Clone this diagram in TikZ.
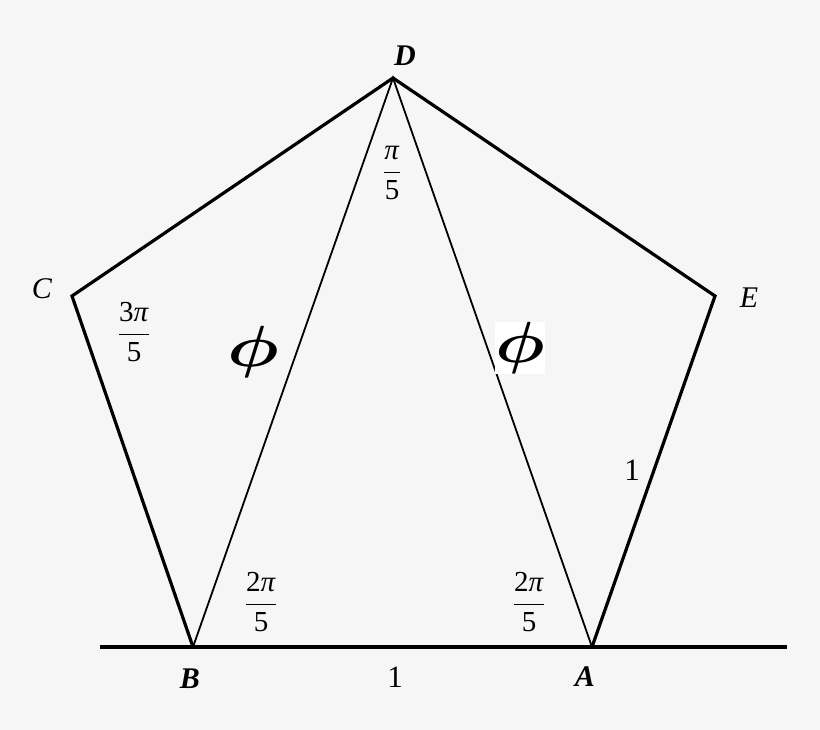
\RequirePackage{fix-cm}
\documentclass[tikz,border=0pt]{standalone}
\usepackage{amsmath}
\usepackage{fontspec}
\setmainfont{Liberation Serif}
\definecolor{bgcol}{HTML}{F6F6F6}
\newcommand{\angfrac}[2]{$\dfrac{\text{#1}}{\text{#2}}$}
\tikzset{
  edgethick/.style={line width=3.2pt, line join=miter, line cap=butt},
  edgethin/.style={line width=1.8pt},
  vlab/.style={font=\fontsize{30}{30}\selectfont\bfseries\itshape, inner sep=0pt},
  vlabthin/.style={font=\fontsize{30}{30}\selectfont\itshape, inner sep=0pt},
  anglab/.style={font=\fontsize{29}{29}\selectfont, inner sep=0pt},
  lenlab/.style={font=\fontsize{31}{31}\selectfont, inner sep=0pt},
  philab/.style={font=\fontsize{58}{58}\selectfont, inner sep=0pt}
}
\begin{document}
\begin{tikzpicture}[x=1pt,y=-1pt]
\fill[bgcol] (0,0) rectangle (820,730);
\useasboundingbox (0,0) rectangle (820,730);
\coordinate (D) at (393,78);
\coordinate (C) at (72,296);
\coordinate (E) at (715,296);
\coordinate (B) at (193,647);
\coordinate (A) at (592,647);
\coordinate (L) at (100,647);
\coordinate (R) at (787,647);
% base line
\draw[edgethick] (L) -- (R);
% pentagon edges
\draw[edgethick] (B) -- (C) -- (D) -- (E) -- (A);
% diagonals
\draw[edgethin] (B) -- (D) -- (A);
% vertex labels
\node[vlab] (lD) at (405,56) {D};
\node[vlabthin] (lC) at (42,289) {C};
\node[vlabthin] (lE) at (749,298) {E};
\node[vlab] (lB) at (190,679) {B};
\node[vlab] (lA) at (585,677) {A};
% lengths
\node[lenlab] (l1) at (395,677) {1};
\node[lenlab] (l2) at (632,470) {1};
% angles
\node[anglab] (aD) at (392,173) {\angfrac{\textit{π}}{5}};
\node[anglab] (aC) at (134,332) {\angfrac{3\textit{π}}{5}};
\node[anglab] (aB) at (261,602) {\angfrac{2\textit{π}}{5}};
\node[anglab] (aA) at (529,602) {\angfrac{2\textit{π}}{5}};
% phi
\node[philab] (p1) at (253,352) {\scalebox{1.25}[1]{$\boldsymbol{\phi}$}};
\node[philab, fill=white, minimum width=46pt, minimum height=52pt] (p2) at (520,348) {\scalebox{1.2}[1]{$\boldsymbol{\phi}$}};
\end{tikzpicture}
\end{document}
